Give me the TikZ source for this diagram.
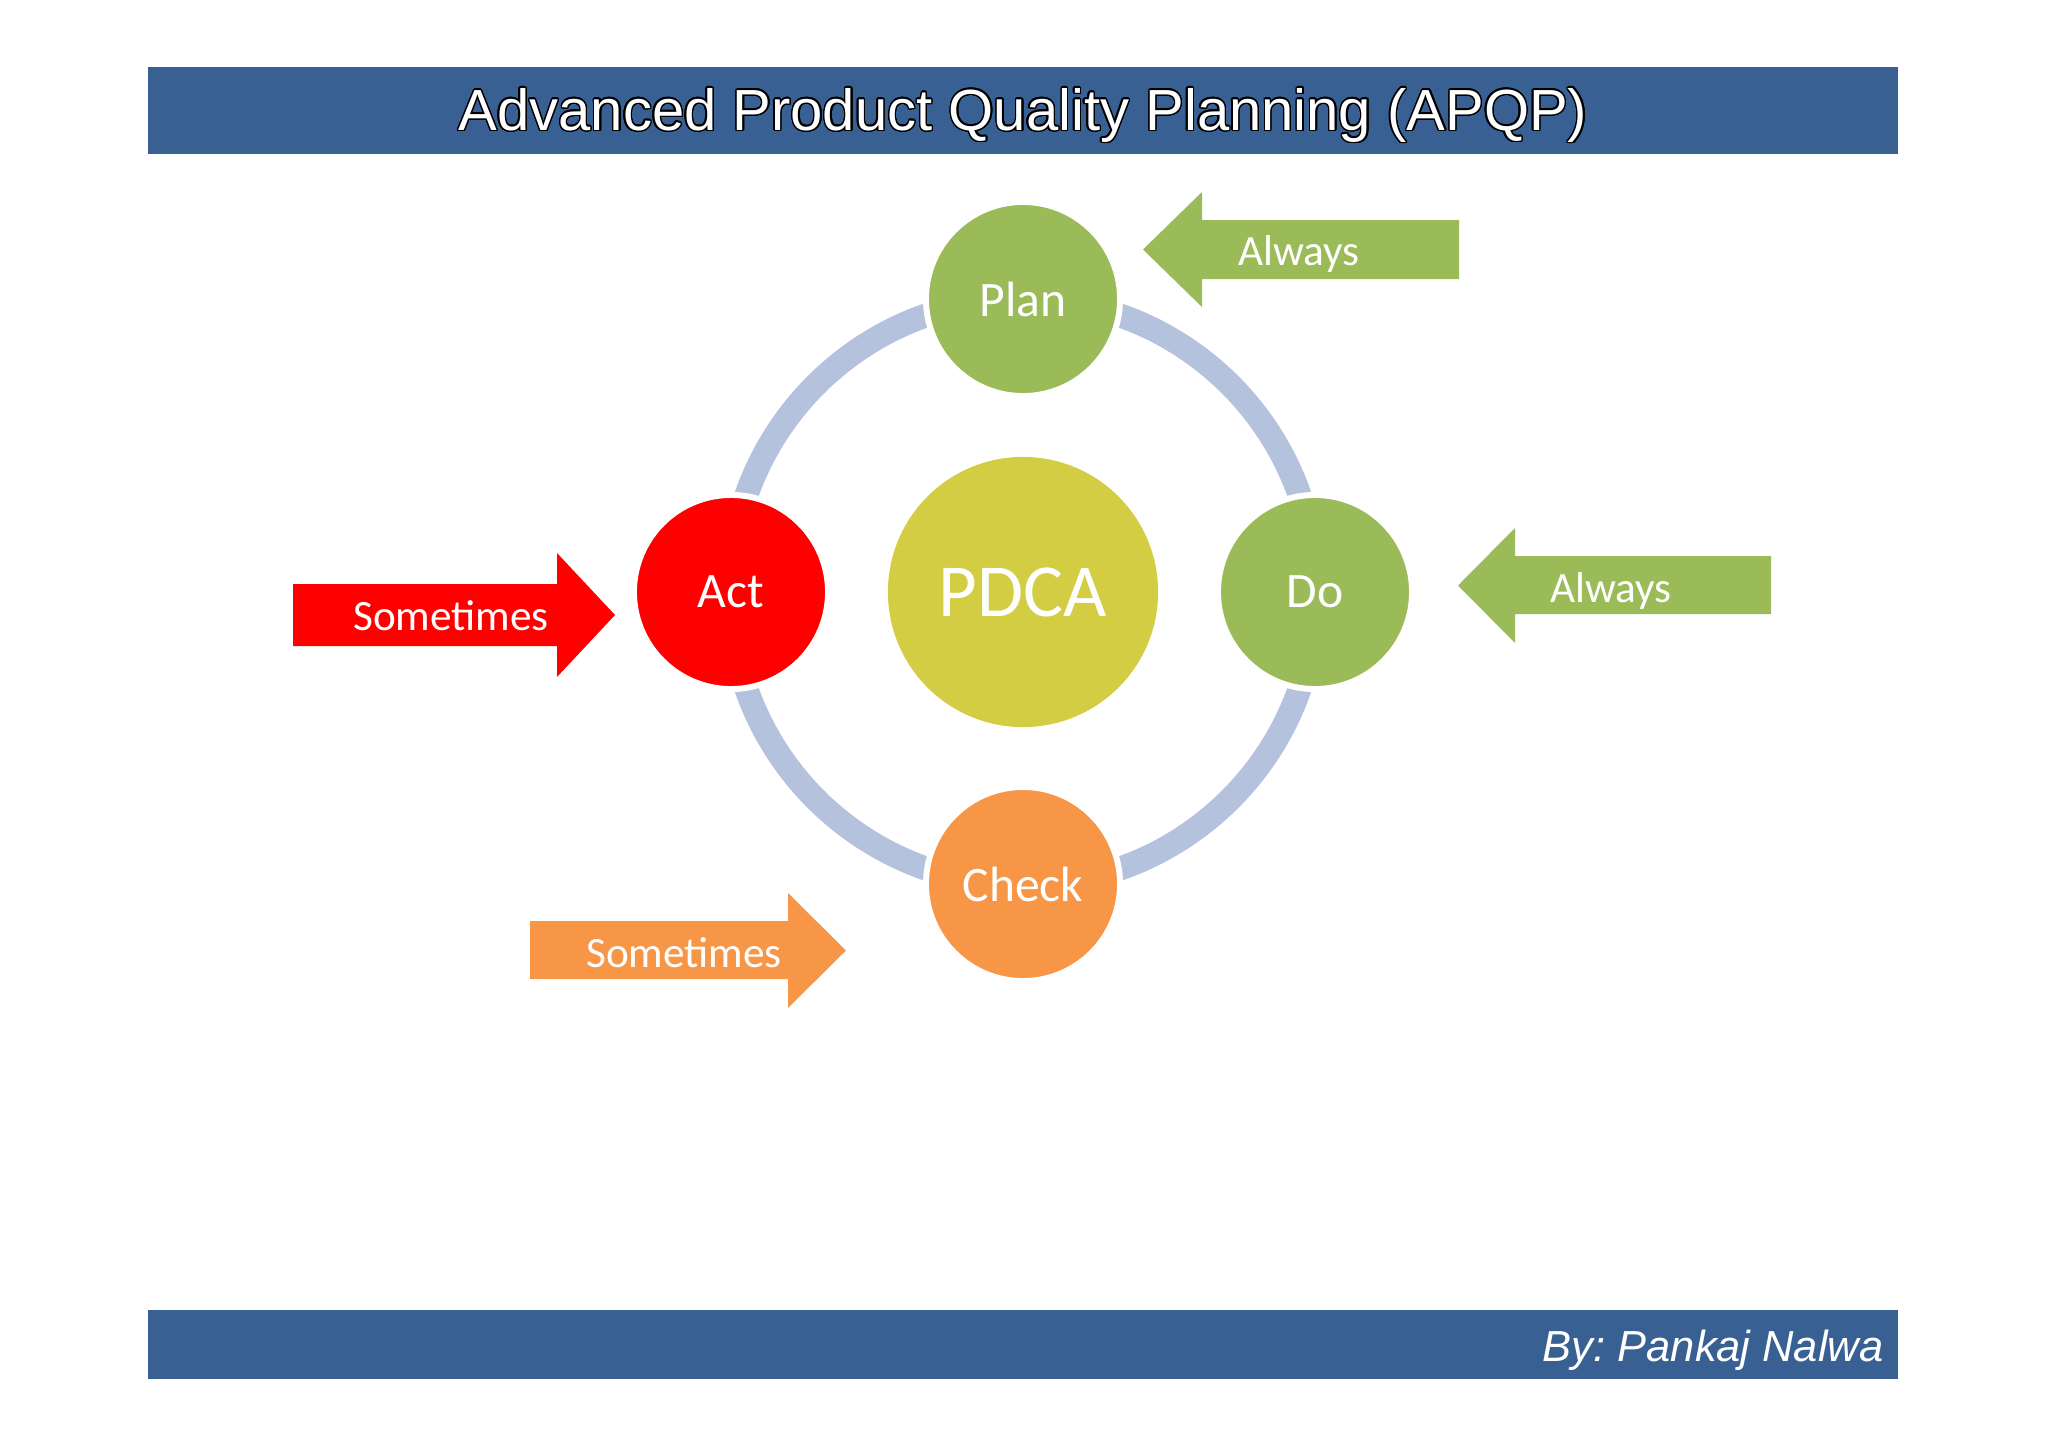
\documentclass[tikz,border=0pt]{standalone}
\usepackage{fontspec}
\setmainfont{Carlito}
\newfontfamily\arialfont{Liberation Sans}
\usepackage{contour}
\contourlength{0.4pt}
\contournumber{24}
\usetikzlibrary{positioning}
\definecolor{barblue}{RGB}{56,96,146}
\definecolor{plangreen}{RGB}{155,187,89}
\definecolor{actred}{RGB}{255,0,0}
\definecolor{checkorange}{RGB}{247,150,70}
\definecolor{pdcayellow}{RGB}{211,205,67}
\definecolor{ringblue}{RGB}{180,194,222}

\begin{document}
\begin{tikzpicture}[x=0.01cm,y=-0.01cm,
    stage/.style={circle,draw=white,line width=1.7pt,minimum size=1.94cm,inner sep=0pt,text=white,font=\fontsize{14.1}{16}\selectfont},
    tag/.style={text=white,inner sep=0pt,font=\fontsize{12.3}{14}\selectfont}]
        \useasboundingbox (0,0) rectangle (2048,1448);
        % title and footer bars
        \fill[barblue] (148,67) rectangle (1898,154);
        \node[text=white,font=\arialfont\fontsize{16.5}{19}\selectfont] (title) at (1023,116) {\contour{black}{Advanced Product Quality Planning (APQP)}};
        \fill[barblue] (148,1310) rectangle (1898,1379);
        \node[anchor=east,inner sep=0pt,text=white,font=\arialfont\itshape\fontsize{12.35}{14}\selectfont] (author) at (1884,1350) {\frenchspacing By: Pankaj Nalwa};
        % cycle
        \draw[ringblue,line width=6.8pt] (1023,592) circle (293);
        \node[circle,fill=pdcayellow,minimum size=2.7cm,text=white,font=\fontsize{21.3}{24}\selectfont] (pdca) at (1023,592) {PDCA};
        \node[stage,fill=plangreen] (plan) at (1023,299) {Plan};
        \node[stage,fill=plangreen] (do) at (1315,592) {Do};
        \node[stage,fill=checkorange] (check) at (1023,884) {Check};
        \node[stage,fill=actred] (act) at (731,592) {Act};
        % arrows
        \fill[plangreen] (1459,220) -- (1202,220) -- (1202,192) -- (1143,249.5) -- (1202,307) -- (1202,279) -- (1459,279) -- cycle;
        \node[tag] (always1) at (1299,254) {Always};
        \fill[plangreen] (1771,556) -- (1515,556) -- (1515,528) -- (1458,585.5) -- (1515,643) -- (1515,614) -- (1771,614) -- cycle;
        \node[tag] (always2) at (1611,591) {Always};
        \fill[actred] (293,584) -- (557,584) -- (557,553) -- (615,615) -- (557,677) -- (557,646) -- (293,646) -- cycle;
        \node[tag] (sometimes1) at (451,616) {Sometimes};
        \fill[checkorange] (530,921) -- (788,921) -- (788,893) -- (846,950.5) -- (788,1008) -- (788,979) -- (530,979) -- cycle;
        \node[tag] (sometimes2) at (684,953) {Sometimes};
    \end{tikzpicture}
\end{document}
